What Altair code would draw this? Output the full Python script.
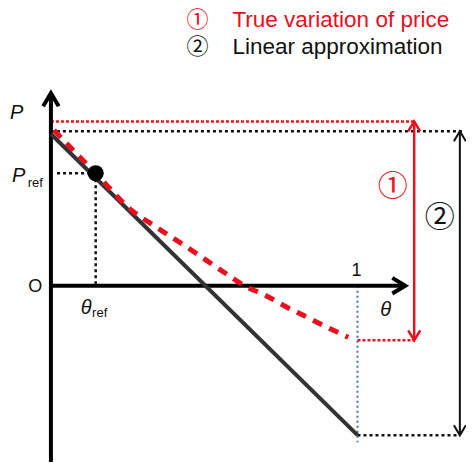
import altair as alt
import pandas as pd

# diagram coordinates: theta on x, price on y (same unit length on both axes)
curve_theta = [0.01, 0.146, 0.264, 0.334, 0.446, 0.573, 0.631, 0.701, 0.764, 0.828, 0.892, 0.97]
curve_price = [0.506, 0.366, 0.245, 0.197, 0.124, 0.038, 0.0, -0.032, -0.067, -0.099, -0.131, -0.168]

line_theta = [0.0, 1.0]
line_price = [0.494, -0.487]

theta_ref = 0.146
price_ref = 0.366

# segments: x, y, x2, y2, kind
seg_x = [0.0, 0.0, 0.0, 0.0, 1.185, 1.334, 1.0, 1.0, 1.0, 0.02, theta_ref]
seg_y = [-0.6, 0.0, 0.535, 0.503, 0.535, 0.503, -0.178, -0.487, 0.0, price_ref, price_ref]
seg_x2 = [0.0, 1.15, 1.185, 1.345, 1.185, 1.334, 1.185, 1.334, 1.0, theta_ref, theta_ref]
seg_y2 = [0.622, 0.0, 0.535, 0.503, -0.178, -0.487, -0.178, -0.487, -0.51, price_ref, 0.0]
seg_kind = ["axis", "axis", "red_dot", "black_dot", "red_arrow", "black_arrow",
            "red_dot", "black_dot", "blue_dot", "black_dot", "black_dot"]

# arrow heads: x, y, angle, kind
head_x = [0.0, 1.156, 1.185, 1.185, 1.334, 1.334]
head_y = [0.627, 0.0, 0.535, -0.178, 0.503, -0.487]
head_angle = [0, 90, 0, 180, 0, 180]
head_kind = ["axis", "axis", "red", "red", "black", "black"]

# labels
label_text = ["P", "P", "ref", "O", "θ", "ref", "θ", "1"]
label_x = [-0.112, -0.105, -0.051, -0.051, 0.115, 0.159, 1.092, 0.997]
label_y = [0.564, 0.357, 0.334, -0.003, -0.073, -0.089, -0.080, 0.048]
label_size = [20, 20, 13, 18, 20, 13, 20, 18]
label_italic = [True, True, False, False, True, False, True, False]

legend_mark = ["①", "②"]
legend_text = ["True variation of price", "Linear approximation"]
legend_color = ["#e8101e", "#111111"]
legend_mark_x = 0.478
legend_text_x = 0.592
legend_y = [0.866, 0.776]

brace_mark = ["①", "②"]
brace_x = [1.115, 1.268]
brace_y = [0.322, 0.220]
brace_color = ["#e8101e", "#111111"]

RED = "#e8101e"
X_SCALE = alt.Scale(domain=[-0.140, 1.354], nice=False, zero=False)
Y_SCALE = alt.Scale(domain=[-0.5743, 0.9045], nice=False, zero=False)
CHEVRON = "M-0.6,1L0,0L0.6,1"

segs = pd.DataFrame({"x": seg_x, "y": seg_y, "x2": seg_x2, "y2": seg_y2, "kind": seg_kind})
heads = pd.DataFrame({"x": head_x, "y": head_y, "angle": head_angle, "kind": head_kind})
curve = pd.DataFrame({"theta": curve_theta, "price": curve_price})
line = pd.DataFrame({"theta": line_theta, "price": line_price})
labels = pd.DataFrame({"text": label_text, "x": label_x, "y": label_y,
                       "size": label_size, "italic": label_italic})
legend_marks = pd.DataFrame({"text": legend_mark, "x": [legend_mark_x] * 2,
                             "y": legend_y, "color": legend_color})
legend_texts = pd.DataFrame({"text": legend_text, "x": [legend_text_x] * 2,
                             "y": legend_y, "color": legend_color})
braces = pd.DataFrame({"text": brace_mark, "x": brace_x, "y": brace_y, "color": brace_color})


def xy(xf="x", yf="y"):
    return dict(
        x=alt.X(f"{xf}:Q", scale=X_SCALE, axis=None),
        y=alt.Y(f"{yf}:Q", scale=Y_SCALE, axis=None),
    )


def seg_layer(kind, **style):
    return alt.Chart(segs).transform_filter(alt.datum.kind == kind).mark_rule(**style).encode(
        x2="x2:Q", y2="y2:Q", **xy()
    )


def head_layer(kind, color, size, width):
    return alt.Chart(heads).transform_filter(alt.datum.kind == kind).mark_point(
        shape=CHEVRON, filled=False, color=color, size=size, strokeWidth=width,
        opacity=1, strokeJoin="miter"
    ).encode(angle=alt.Angle("angle:Q", scale=None), **xy())


def text_layer(df, **style):
    return alt.Chart(df).mark_text(align="center", baseline="middle", **style).encode(
        text="text:N", **xy()
    )


layers = [
    seg_layer("blue_dot", color="#4a6fb5", strokeWidth=2, strokeDash=[2, 3]),
    seg_layer("black_dot", color="#111111", strokeWidth=2.5, strokeDash=[3, 3]),
    seg_layer("red_dot", color=RED, strokeWidth=2.5, strokeDash=[3, 2]),
    seg_layer("red_arrow", color=RED, strokeWidth=2.5),
    seg_layer("black_arrow", color="#111111", strokeWidth=2),
    seg_layer("axis", color="#000000", strokeWidth=4),
    alt.Chart(line).mark_line(color="#333333", strokeWidth=4).encode(**xy("theta", "price")),
    alt.Chart(curve).mark_line(color=RED, strokeWidth=5, strokeDash=[10, 8],
                               interpolate="monotone").encode(**xy("theta", "price")),
    alt.Chart(pd.DataFrame({"x": [theta_ref], "y": [price_ref]})).mark_circle(
        color="#000000", size=260, opacity=1
    ).encode(**xy()),
    head_layer("axis", "#000000", 676, 4),
    head_layer("red", RED, 400, 2.5),
    head_layer("black", "#111111", 400, 2),
]

for italic in (True, False):
    sub = labels[labels["italic"] == italic]
    layers.append(
        alt.Chart(sub).mark_text(
            font="Liberation Sans", color="#111111", align="center", baseline="middle",
            fontStyle="italic" if italic else "normal",
        ).encode(text="text:N", size=alt.Size("size:Q", scale=None), **xy())
    )

layers.append(
    text_layer(legend_marks, font="Noto Sans CJK JP", fontSize=22).encode(
        color=alt.Color("color:N", scale=None))
)
layers.append(
    alt.Chart(legend_texts).mark_text(font="Liberation Sans", fontSize=22.5,
                                      align="left", baseline="middle").encode(
        text="text:N", color=alt.Color("color:N", scale=None), **xy())
)
layers.append(
    text_layer(braces, font="Noto Sans CJK JP", fontSize=30).encode(
        color=alt.Color("color:N", scale=None))
)

chart = alt.layer(*layers).properties(
    width=458, height=454, padding=0,
    autosize=alt.AutoSizeParams(type="none"),
).configure_view(stroke=None)

chart.save("out.html", embed_options={"renderer": "svg", "actions": False})
